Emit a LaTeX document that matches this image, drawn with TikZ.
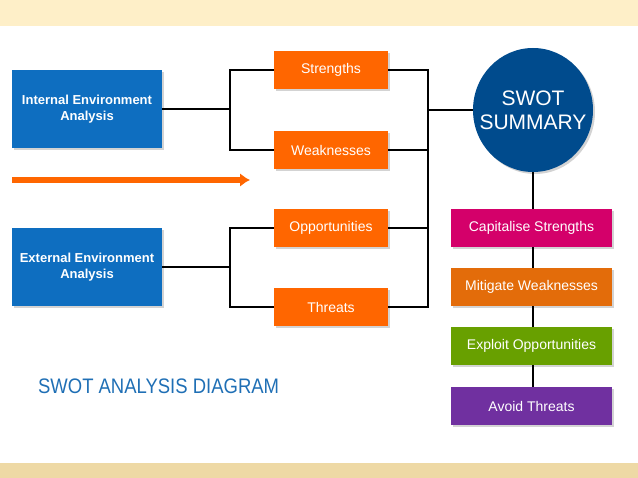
\documentclass[tikz,border=0pt]{standalone}
\usepackage{fontspec}
\setmainfont{Liberation Sans}
\usetikzlibrary{shadows,shapes.geometric,arrows.meta}
\definecolor{bandtop}{HTML}{FEEFC8}
\definecolor{bandbot}{HTML}{EED9A5}
\definecolor{ibl}{HTML}{0E6EC0}
\definecolor{org}{HTML}{FF6600}
\definecolor{navy}{HTML}{004B8D}
\definecolor{mag}{HTML}{D4006A}
\definecolor{brn}{HTML}{E36C0A}
\definecolor{grn}{HTML}{68A000}
\definecolor{pur}{HTML}{7030A0}
\definecolor{ttl}{HTML}{1F6FB5}
\begin{document}
\begin{tikzpicture}[x=1pt,y=-1pt,
  box/.style={draw=none,minimum width=#1,text=white,align=center,inner sep=0pt,
    drop shadow={shadow xshift=2pt,shadow yshift=-2pt,opacity=0.35}},
  env/.style={box=150pt,fill=ibl,minimum height=78pt,font=\bfseries\fontsize{13}{16}\selectfont},
  sw/.style={box=114pt,fill=org,minimum height=38pt,font=\fontsize{14}{16}\selectfont},
  act/.style={box=161pt,minimum height=38pt,font=\fontsize{14}{16}\selectfont},
  ln/.style={line width=1.6pt,black}]
\useasboundingbox (0,0) rectangle (638,478);
\fill[bandtop] (0,0) rectangle (638,26);
\fill[bandbot] (0,463) rectangle (638,478);
\node[env] (int) at (87,109) {Internal Environment\\Analysis};
\node[env] (ext) at (87,267) {External Environment\\Analysis};
\node[sw] (s) at (331,70) {Strengths};
\node[sw] (w) at (331,150) {Weaknesses};
\node[sw] (o) at (331,228) {Opportunities};
\node[sw] (t) at (331,307) {Threats};
\node[ellipse,fill=navy,minimum width=120pt,minimum height=124pt,inner xsep=-14pt,inner ysep=0pt,text=white,align=center,font=\fontsize{21}{24}\selectfont,
  drop shadow={shadow xshift=2pt,shadow yshift=-2pt,opacity=0.35}] (sum) at (533,110) {SWOT\\SUMMARY};
\node[act,fill=mag] (a1) at (531.5,228) {Capitalise Strengths};
\node[act,fill=brn] (a2) at (531.5,287) {Mitigate Weaknesses};
\node[act,fill=grn] (a3) at (531.5,346) {Exploit Opportunities};
\node[act,fill=pur] (a4) at (531.5,406) {Avoid Threats};
\coordinate (arS) at (12,180);
\coordinate (arE) at (250,180);
\draw[org,line width=6pt,-{Latex[length=10pt,width=14pt]}] (arS) -- (arE);
\begin{scope}[ln]
\draw (int.east) -- (230,109);
\draw (s.west) -| (230,150) -- (w.west);
\draw (ext.east) -- (230,267);
\draw (o.west) -| (230,307) -- (t.west);
\draw (s.east) -| (428,307) -- (t.east);
\draw (w.east) -- (428,150);
\draw (o.east) -- (428,228);
\draw (428,110) -- (sum.west);
\draw (sum.south) -- (sum.south |- a1.north);
\draw (sum.south |- a1.south) -- (sum.south |- a2.north);
\draw (sum.south |- a2.south) -- (sum.south |- a3.north);
\draw (sum.south |- a3.south) -- (sum.south |- a4.north);
\end{scope}
\node[anchor=west,text=ttl,font=\fontsize{21}{24}\selectfont,xscale=0.88] (title) at (35,386) {SWOT ANALYSIS DIAGRAM};
\end{tikzpicture}
\end{document}
